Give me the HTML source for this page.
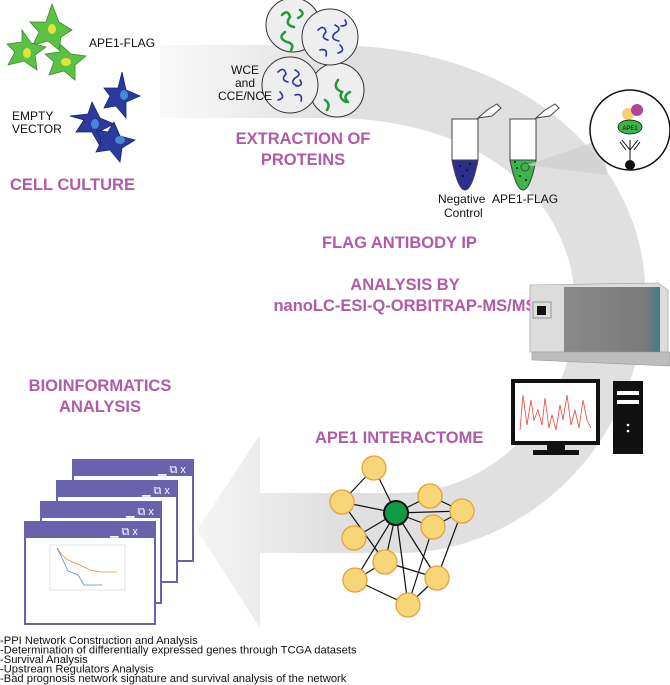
<!DOCTYPE html>
<html><head><meta charset="utf-8"><style>
html,body{margin:0;padding:0;background:#fff;}
svg{display:block;font-family:"Liberation Sans",sans-serif;}
.p{fill:#b05aa8;font-weight:bold;font-size:16.5px;}
.b{fill:#111;font-size:12px;}
</style></head><body>
<svg width="670" height="685" viewBox="0 0 670 685" xmlns="http://www.w3.org/2000/svg">
<defs>
<linearGradient id="g" x1="160" y1="0" x2="330" y2="0" gradientUnits="userSpaceOnUse">
<stop offset="0" stop-color="#e3e3e3" stop-opacity="0.2"/><stop offset="1" stop-color="#e0e0e0"/></linearGradient>
<linearGradient id="m" x1="0" y1="0" x2="1" y2="0"><stop offset="0" stop-color="#8a8a8a"/><stop offset="0.85" stop-color="#7a7a7a"/><stop offset="1" stop-color="#3d7e86"/></linearGradient>
</defs>
<path d="M160,45 L330,45 C530,45 650,170 645,300 C640,450 520,553 400,553 L260,553 L260,628 L197,530 L260,435 L260,493 L400,493 C500,493 580,400 575,300 C570,190 470,118 330,118 L160,118 Z" fill="url(#g)"/>
<g fill="#5cc246" stroke="#3a8a2a" stroke-width="0.8">
<path d="M52,4 L59,22 L72,30 L61,37 L59,50 L48,41 L33,45 L39,32 L30,22 L46,22 Z"/>
<path d="M22,30 L31,43 L46,47 L35,55 L37,70 L24,61 L8,65 L15,52 L7,44 L22,42 Z"/>
<path d="M60,44 L71,54 L86,56 L75,65 L75,80 L64,71 L49,75 L54,62 L45,54 L60,52 Z"/>
</g>
<g fill="#e1e23a"><ellipse cx="52" cy="29" rx="4" ry="5"/><ellipse cx="27" cy="53" rx="4" ry="5"/><ellipse cx="66" cy="62" rx="5" ry="4"/></g>
<g fill="#2c3a9c" stroke="#1a2470" stroke-width="0.8">
<path d="M122,72 L126,90 L140,96 L126,102 L126,118 L116,106 L104,108 L110,96 L104,88 L118,88 Z"/>
<path d="M92,102 L100,118 L114,124 L102,130 L100,146 L92,132 L76,132 L84,120 L70,116 L88,114 Z"/>
<path d="M114,122 L120,136 L135,140 L122,148 L120,162 L110,150 L96,152 L102,140 L96,130 L108,132 Z"/>
</g>
<g fill="#4a86d6"><ellipse cx="124" cy="95" rx="4" ry="5"/><ellipse cx="95" cy="124" rx="4" ry="5"/><ellipse cx="120" cy="140" rx="5" ry="4"/></g>
<text class="b" x="89" y="47">APE1-FLAG</text>
<text class="b" x="12" y="120">EMPTY</text>
<text class="b" x="12" y="133">VECTOR</text>
<text class="p" x="10" y="190">CELL CULTURE</text>
<g stroke="#333" stroke-width="1" fill="#eeeeee">
<circle cx="293" cy="25" r="27"/>
<circle cx="337" cy="90" r="27"/>
<circle cx="330" cy="37" r="28"/>
<circle cx="290" cy="85" r="28"/>
</g>
<g fill="none" stroke-width="2.5" stroke-linecap="round">
<path d="M282,15 q6,-6 8,2 q-6,8 4,10 M285,32 q-8,6 2,10 q8,2 4,8 M300,10 q6,4 -2,8" stroke="#1f9a3a"/>
<path d="M338,80 q-6,8 4,12 q-4,6 4,10 M350,92 q-8,4 -2,10 M325,100 q6,4 2,10" stroke="#1f9a3a"/>
<path d="M318,30 q6,-6 8,2 q-6,6 2,8 M335,25 q8,4 0,8 q-6,6 4,8 M340,45 q6,6 -2,8 M320,50 q8,-2 6,6 M345,20 q4,6 -4,6" stroke="#2b35a8" stroke-width="1.6"/>
<path d="M278,72 q6,-6 8,2 q-6,6 2,8 M295,70 q8,4 0,8 q-6,6 4,8 M280,92 q6,6 -2,8 M295,95 q8,-2 6,6 M300,80 q4,6 -4,6" stroke="#2b35a8" stroke-width="1.6"/>
</g>
<text class="b" x="245" y="74" text-anchor="middle">WCE</text>
<text class="b" x="245" y="87" text-anchor="middle">and</text>
<text class="b" x="245" y="100" text-anchor="middle">CCE/NCE</text>
<text class="p" x="303" y="144" text-anchor="middle">EXTRACTION OF</text>
<text class="p" x="303" y="165" text-anchor="middle">PROTEINS</text>
<g stroke="#444" stroke-width="1">
<path d="M452,119 L478,119 L478,160 Q472,190 465,190 Q458,190 452,160 Z" fill="#fff"/>
<path d="M452,160 L478,160 Q472,190 465,190 Q458,190 452,160 Z" fill="#2a2f8e"/>
<path d="M478,118 L487,110 L497,104 L501,108 L492,116 Z" fill="#fff"/>
<path d="M510,119 L536,119 L536,160 Q530,190 523,190 Q516,190 510,160 Z" fill="#fff"/>
<path d="M510,160 L536,160 Q530,190 523,190 Q516,190 510,160 Z" fill="#3cb54a"/>
<path d="M536,118 L545,110 L555,104 L559,108 L550,116 Z" fill="#fff"/>
<circle cx="525" cy="167" r="4" fill="none"/>
</g>
<g fill="#111"><circle cx="460" cy="166" r="1"/><circle cx="467" cy="170" r="1"/><circle cx="463" cy="176" r="1"/><circle cx="470" cy="164" r="1"/><circle cx="517" cy="168" r="1"/><circle cx="520" cy="176" r="1"/><circle cx="526" cy="180" r="1"/><circle cx="515" cy="162" r="1"/></g>
<path d="M527,165 L600,140 L608,175 Z" fill="#cfcfcf" opacity="0.8"/>
<circle cx="630" cy="130" r="40" fill="#fff" stroke="#111" stroke-width="1.5"/>
<circle cx="628" cy="114" r="6" fill="#f2cf73"/><circle cx="637" cy="110" r="6" fill="#b0449a"/>
<ellipse cx="630" cy="127" rx="12" ry="7" fill="#3cb54a" stroke="#111" stroke-width="0.8"/>
<text x="630" y="130" font-size="6" text-anchor="middle" fill="#111">APE1</text>
<path d="M630,140 L630,160 M630,150 L622,140 M630,150 L638,140 M626,150 L620,142 M634,150 L640,142" stroke="#111" stroke-width="1" fill="none"/>
<circle cx="630" cy="165" r="5" fill="#111"/>
<text class="b" x="438" y="203">Negative</text>
<text class="b" x="444" y="217">Control</text>
<text class="b" x="492" y="203">APE1-FLAG</text>
<text class="p" x="322" y="248">FLAG ANTIBODY IP</text>
<text class="p" x="405" y="290" text-anchor="middle">ANALYSIS BY</text>
<text class="p" x="405" y="311" text-anchor="middle">nanoLC-ESI-Q-ORBITRAP-MS/MS</text>
<path d="M530,285 L658,283 L668,290 L668,352 L530,352 Z" fill="#dcdcdc" stroke="#999" stroke-width="0.6"/>
<rect x="564" y="287" width="96" height="65" fill="url(#m)"/>
<rect x="533" y="302" width="18" height="16" fill="#ddd" stroke="#666" stroke-width="0.6"/>
<rect x="537" y="306" width="9" height="9" fill="#111"/>
<path d="M532,352 L670,352 L670,366 L532,360 Z" fill="#bdbdbd" stroke="#999" stroke-width="0.6"/>
<rect x="513" y="381" width="85" height="62" fill="#fff" stroke="#111" stroke-width="4"/>
<path d="M520,430 L523,395 L527,425 L531,400 L534,420 L538,410 L542,425 L545,398 L549,428 L552,415 L556,430 L560,405 L563,420 L567,395 L571,425 L575,410 L579,428 L583,400 L587,420 L591,428" stroke="#e8453c" stroke-width="0.8" fill="none"/>
<rect x="547" y="443" width="18" height="8" fill="#111"/><rect x="533" y="450" width="46" height="5" fill="#111"/>
<rect x="613" y="381" width="30" height="73" fill="#111"/>
<rect x="617" y="391" width="22" height="4" fill="#fff"/><rect x="617" y="400" width="22" height="4" fill="#fff"/>
<circle cx="628" cy="425" r="1.3" fill="#fff"/><circle cx="628" cy="431" r="1.3" fill="#fff"/>
<text class="p" x="315" y="443">APE1 INTERACTOME</text>
<text class="p" x="100" y="391" text-anchor="middle">BIOINFORMATICS</text>
<text class="p" x="100" y="412" text-anchor="middle">ANALYSIS</text>
<g stroke="#111" stroke-width="1.2">
<line x1="396" y1="513" x2="374" y2="468"/><line x1="396" y1="513" x2="342" y2="502"/><line x1="396" y1="513" x2="430" y2="496"/><line x1="396" y1="513" x2="462" y2="511"/><line x1="396" y1="513" x2="433" y2="527"/><line x1="396" y1="513" x2="354" y2="538"/><line x1="396" y1="513" x2="385" y2="562"/><line x1="396" y1="513" x2="355" y2="580"/><line x1="396" y1="513" x2="437" y2="578"/><line x1="396" y1="513" x2="408" y2="605"/>
<line x1="374" y1="468" x2="342" y2="502"/><line x1="430" y1="496" x2="462" y2="511"/><line x1="342" y1="502" x2="385" y2="562"/><line x1="433" y1="527" x2="408" y2="605"/><line x1="385" y1="562" x2="437" y2="578"/><line x1="355" y1="580" x2="408" y2="605"/><line x1="437" y1="578" x2="408" y2="605"/><line x1="433" y1="527" x2="462" y2="511"/><line x1="385" y1="562" x2="355" y2="580"/><line x1="462" y1="511" x2="437" y2="578"/>
</g>
<g fill="#f7d67a" stroke="#e3a33a" stroke-width="1.3">
<circle cx="374" cy="468" r="12"/><circle cx="342" cy="502" r="12"/><circle cx="430" cy="496" r="12"/><circle cx="462" cy="511" r="12"/><circle cx="433" cy="527" r="12"/><circle cx="354" cy="538" r="12"/><circle cx="385" cy="562" r="12"/><circle cx="355" cy="580" r="12"/><circle cx="437" cy="578" r="12"/><circle cx="408" cy="605" r="12"/>
</g>
<circle cx="396" cy="513" r="12" fill="#0f9a45" stroke="#111" stroke-width="2"/>
<g fill="#fff" stroke="#6a62ad" stroke-width="2">
<rect x="73" y="460" width="120" height="101"/><rect x="73" y="460" width="120" height="15" fill="#6a62ad"/>
<rect x="57" y="481" width="120" height="101"/><rect x="57" y="481" width="120" height="15" fill="#6a62ad"/>
<rect x="41" y="502" width="120" height="101"/><rect x="41" y="502" width="120" height="15" fill="#6a62ad"/>
<rect x="25" y="522" width="130" height="102"/><rect x="25" y="522" width="130" height="15" fill="#6a62ad"/>
</g>
<g fill="#fff" font-size="11">
<text x="158" y="473">▁ ⧉ x</text><text x="142" y="494">▁ ⧉ x</text><text x="126" y="515">▁ ⧉ x</text><text x="110" y="535">▁ ⧉ x</text>
</g>
<g fill="none" stroke-width="0.8">
<rect x="50" y="545" width="75" height="45" stroke="#ddd"/>
<path d="M57,548 L62,555 L68,560 L80,565 L90,570 L100,572 L117,572" stroke="#f08a30"/>
<path d="M57,548 L62,558 L68,571 L78,575 L84,585 L102,585" stroke="#4a8ed6"/>
</g>
<g fill="#111" font-size="11.2">
<text x="0" y="644">-PPI Network Construction and Analysis</text>
<text x="0" y="653.5">-Determination of differentially expressed genes through TCGA datasets</text>
<text x="0" y="663">-Survival Analysis</text>
<text x="0" y="672.5">-Upstream Regulators Analysis</text>
<text x="0" y="682">-Bad prognosis network signature and survival analysis of the network</text>
</g>
</svg>
</body></html>
